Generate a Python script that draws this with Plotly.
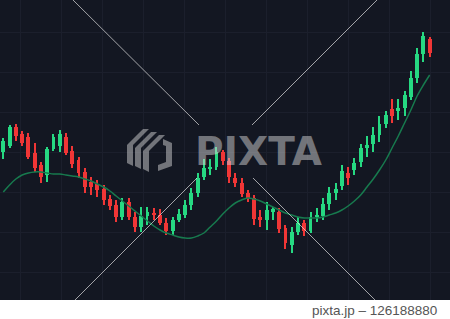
import plotly.graph_objects as go

# ---------------- data (price units) ----------------
opens = [148, 154, 173, 166, 163, 147, 135, 125, 151, 154, 163, 149, 140, 128, 118, 116, 111, 101, 95, 83,
         98, 83, 73, 84, 87, 85, 77, 69, 80, 85, 95, 107, 123, 131, 133, 148, 139, 122, 117, 107,
         102, 83, 80, 88, 88, 72, 55, 68, 77, 69, 83, 84, 96, 107, 114, 127, 130, 138, 152, 156,
         165, 176, 191, 189, 192, 203, 222, 246, 261]
highs = [162, 175, 176, 169, 167, 157, 138, 153, 166, 170, 167, 154, 143, 132, 123, 120, 115, 105, 100, 102,
         102, 88, 93, 93, 92, 91, 82, 83, 91, 100, 112, 127, 141, 141, 153, 150, 142, 127, 122, 110,
         105, 90, 98, 93, 92, 75, 73, 83, 80, 88, 92, 102, 113, 117, 135, 133, 142, 156, 164, 173,
         184, 189, 201, 201, 209, 229, 252, 268, 263]
lows = [141, 152, 159, 154, 141, 128, 117, 118, 149, 148, 145, 132, 122, 107, 105, 103, 95, 90, 78, 80,
        80, 68, 68, 75, 80, 75, 65, 65, 78, 82, 90, 103, 120, 125, 130, 135, 117, 113, 103, 98,
        75, 73, 70, 80, 67, 51, 47, 65, 64, 67, 78, 80, 90, 100, 110, 115, 125, 133, 143, 148,
        158, 172, 177, 180, 184, 200, 217, 238, 243]
closes = [159, 173, 164, 157, 143, 132, 123, 151, 163, 166, 147, 136, 127, 113, 113, 110, 100, 94, 83, 98,
          83, 73, 84, 88, 85, 77, 69, 80, 86, 95, 107, 122, 132, 133, 148, 139, 123, 117, 106, 101,
          81, 80, 90, 91, 71, 57, 68, 77, 69, 83, 85, 96, 107, 111, 129, 122, 137, 152, 155, 165,
          176, 185, 184, 192, 205, 222, 246, 264, 247]
moving_avg = [108, 115, 121, 125, 127, 128, 128, 127, 126, 126, 125, 124, 123, 121, 119, 116, 113, 109, 104, 99,
              94, 89, 84, 79, 74, 70, 67, 65, 63, 62, 62, 64, 67, 73, 79, 86, 92, 97, 100, 102,
              101, 99, 96, 93, 90, 87, 85, 83, 82, 82, 82, 83, 85, 87, 90, 94, 99, 105, 113, 121,
              130, 140, 152, 164, 177, 190, 204, 215, 225]
idx = list(range(len(opens)))

UP = "#26d982"
DN = "#f03636"
BG = "#131722"
GRID = "#1b1f2c"

W, H, B = 450, 319, 19
PH = H - B

up = [i for i in idx if closes[i] >= opens[i]]
dn = [i for i in idx if closes[i] < opens[i]]

fig = go.Figure()
for sel, col in ((up, UP), (dn, DN)):
    fig.add_trace(go.Bar(
        x=sel, y=[highs[i] - lows[i] for i in sel], base=[lows[i] for i in sel],
        width=0.17, marker=dict(color=col, line=dict(width=0)), hoverinfo="skip", showlegend=False))
    fig.add_trace(go.Bar(
        x=sel, y=[max(abs(closes[i] - opens[i]), 1) for i in sel],
        base=[min(opens[i], closes[i]) for i in sel],
        width=0.62, marker=dict(color=col, line=dict(width=0)), hoverinfo="skip", showlegend=False))

fig.add_trace(go.Scatter(x=idx, y=moving_avg, mode="lines",
                         line=dict(color="#177a4e", width=1.5, shape="spline"),
                         hoverinfo="skip", showlegend=False))


def px(x, y):
    return x / W, 1 - y / PH


shapes = []
# watermark diagonal lines
for (x0, y0, x1, y1) in [(73, 0, 199, 125), (377, 0, 252, 125), (197, 178, 75, 300), (253, 178, 375, 300)]:
    a, b = px(x0, y0)
    c, d = px(x1, y1)
    shapes.append(dict(type="line", xref="paper", yref="paper", x0=a, y0=b, x1=c, y1=d,
                       line=dict(color="rgba(225,225,225,0.7)", width=1), layer="above"))

# watermark logo icon (approximate)
icon_polys = [
    [(127, 145), (143, 129), (149, 129), (133, 145), (133, 166), (127, 163)],
    [(135, 148), (151, 132), (157, 132), (141, 148), (141, 169), (135, 166)],
    [(143, 151), (159, 135), (165, 135), (149, 151), (149, 172), (143, 169)],
    [(163, 139), (172, 143), (172, 166), (158, 171), (158, 165), (166, 162), (166, 146), (163, 145)],
]
for poly in icon_polys:
    pts = [px(x, y) for x, y in poly]
    path = "M " + " L ".join(f"{a:.4f},{b:.4f}" for a, b in pts) + " Z"
    shapes.append(dict(type="path", xref="paper", yref="paper", path=path,
                       fillcolor="rgba(210,210,210,0.5)", line=dict(width=0), layer="above"))

annotations = [
    dict(text="PIXTA", xref="paper", yref="paper", x=258.5 / W, y=1 - 151.5 / PH,
         xanchor="center", yanchor="middle", showarrow=False,
         font=dict(family="DejaVu Sans", size=39, color="rgba(210,210,210,0.5)", weight=700)),
    dict(text="pixta.jp – 126188880", xref="paper", yref="paper", x=439 / W, y=(PH - 310) / PH,
         xanchor="right", yanchor="middle", showarrow=False,
         font=dict(family="Liberation Sans", size=13.5, color="#555555")),
]

step = 6.27
x0r = -3.3 / step
fig.update_layout(
    width=W, height=H,
    margin=dict(l=0, r=0, t=0, b=B, pad=0),
    paper_bgcolor="white", plot_bgcolor=BG,
    barmode="overlay", bargap=0,
    shapes=shapes, annotations=annotations,
    xaxis=dict(range=[x0r, x0r + W / step], showticklabels=False, zeroline=False,
               showgrid=True, gridcolor=GRID, gridwidth=1,
               tickmode="linear", tick0=(20 - 3.3) / step, dtick=41 / step, ticks=""),
    yaxis=dict(range=[0, PH], showticklabels=False, zeroline=False,
               showgrid=True, gridcolor=GRID, gridwidth=1,
               tickmode="linear", tick0=28, dtick=40, ticks=""),
)

fig.write_html("out.html")
